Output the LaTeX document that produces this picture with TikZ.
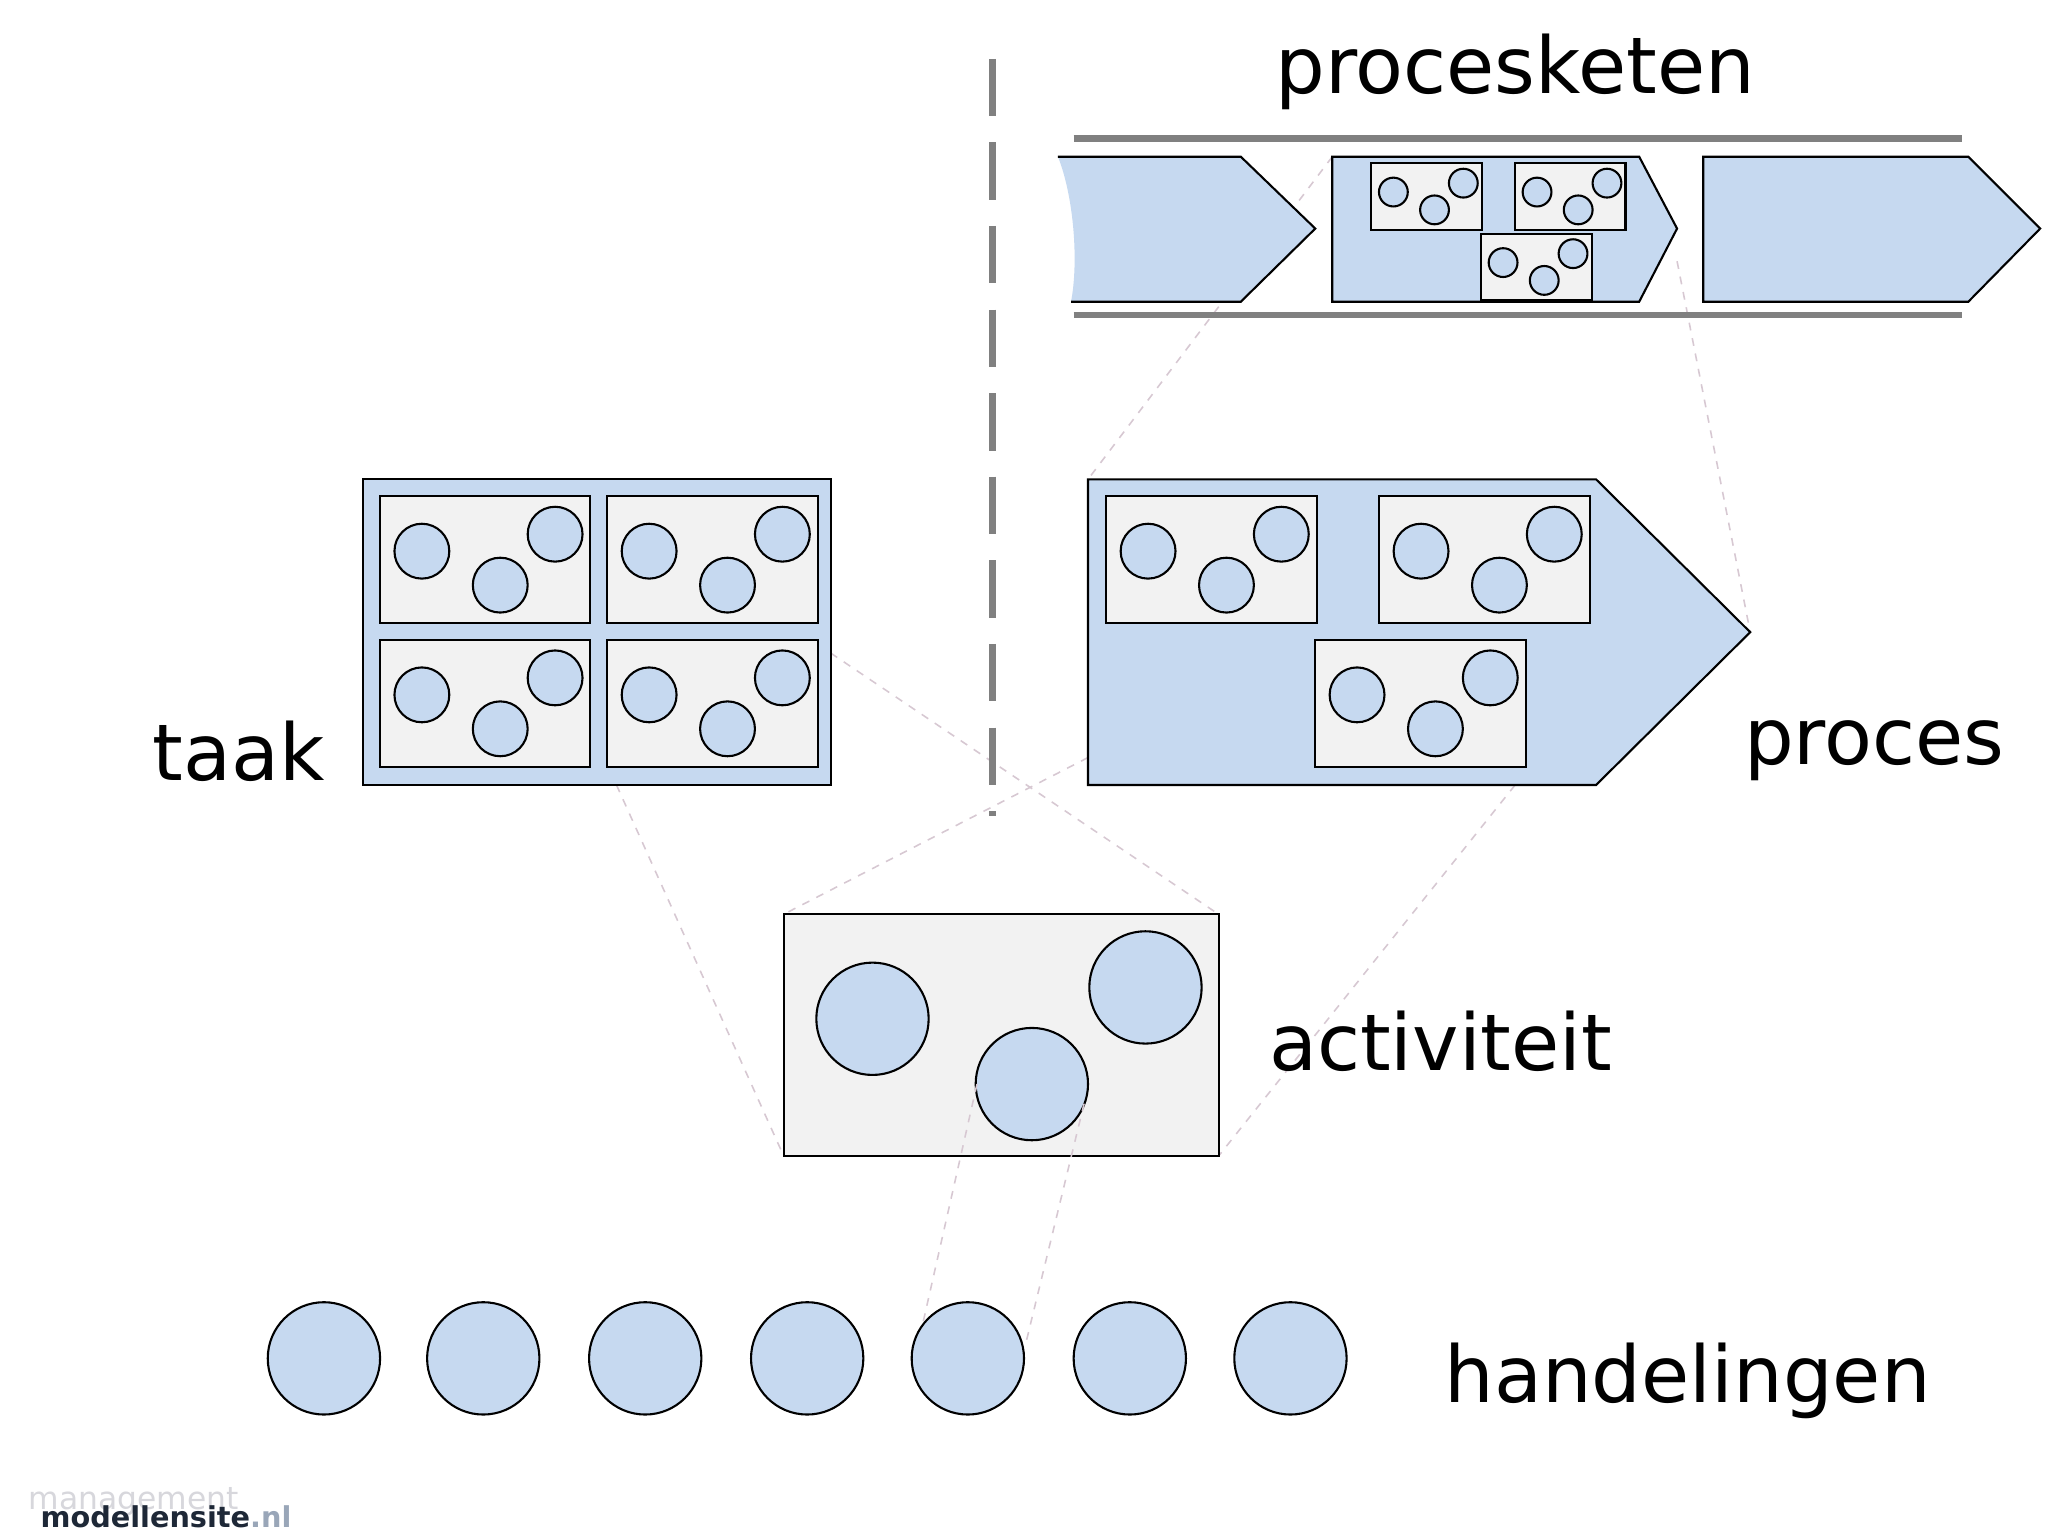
\documentclass[tikz,border=0pt]{standalone}
\usepackage{fontspec}
\setmainfont{DejaVu Sans}
\begin{document}
\begin{tikzpicture}[x=0.5pt,y=-0.5pt,
  blu/.style={fill={rgb,255:red,198;green,217;blue,240},draw=black,line width=0.8pt},
  gbox/.style={fill={rgb,255:red,242;green,242;blue,242},draw=black,line width=0.8pt},
  guide/.style={draw={rgb,255:red,215;green,200;blue,210},dashed,line width=0.6pt},
  bar/.style={draw={rgb,255:red,128;green,128;blue,128},line width=2.5pt},
  lbl/.style={font=\fontsize{30}{36}\selectfont}]
\useasboundingbox (0,0) rectangle (1568,1176);
\fill[white] (0,0) rectangle (1568,1176);
\newcommand\cbox[3]{\begin{scope}[shift={(#1,#2)},scale=#3]
  \draw[gbox] (0,0) rectangle (161,97);
  \draw[blu] (32,42) circle (21); \draw[blu] (92,68) circle (21); \draw[blu] (134,29) circle (21);
\end{scope}}
% guides behind
\draw[guide] (1020,120) -- (833,367);
\draw[guide] (1284,200) -- (1340,484);
\draw[guide] (833,580) -- (600,700);
\draw[guide] (1160,601) -- (933,885);
\draw[guide] (636,500) -- (933,700);
\draw[guide] (472,601) -- (600,885);
% dashed divider
\draw[draw={rgb,255:red,128;green,128;blue,128},line width=2.5pt,dash pattern=on 22pt off 10pt] (760,45) -- (760,625);
% procesketen
\node[lbl] (pk) at (1160,55) {procesketen};
\draw[bar] (822,106) -- (1502,106);
\draw[bar] (822,241) -- (1502,241);
\fill[blu,draw=none] (810,120) -- (950,120) -- (1007,175) -- (950,231) -- (820,231) .. controls (826,200) and (822,150) .. (810,120);
\draw[line width=0.8pt] (810,120) -- (950,120) -- (1007,175) -- (950,231) -- (820,231);
\draw[blu] (1020,120) -- (1255,120) -- (1284,175) -- (1255,231) -- (1020,231) -- cycle;
\cbox{1050}{125}{0.525}
\cbox{1160}{125}{0.525}
\cbox{1134}{179}{0.525}
\draw[blu] (1304,120) -- (1507,120) -- (1562,175) -- (1507,231) -- (1304,231) -- cycle;
% taak
\draw[blu] (278,367) rectangle (636,601);
\cbox{291}{380}{1}\cbox{465}{380}{1}\cbox{291}{490}{1}\cbox{465}{490}{1}
\node[lbl] (taak) at (183,575) {taak};
% proces
\draw[blu] (833,367) -- (1222,367) -- (1340,484) -- (1222,601) -- (833,601) -- cycle;
\cbox{847}{380}{1}\cbox{1056}{380}{1}\cbox{1007}{490}{1}
\node[lbl] (proces) at (1435,575) {proces};
% activiteit
\draw[gbox] (600,700) rectangle (933,885);
\draw[blu] (668,780) circle (43); \draw[blu] (790,830) circle (43); \draw[blu] (877,756) circle (43);
\draw[guide] (748,830) -- (705,1020);
\draw[guide] (830,845) -- (785,1030);
\node[lbl] (act) at (1103,797) {activiteit};
% handelingen
\foreach \x in {248,370,494,618,741,865,988} \draw[blu] (\x,1040) circle (43);
\node[lbl] (hand) at (1292,1057) {handelingen};
% logo
\node[anchor=west,text={rgb,255:red,215;green,215;blue,220},font=\fontsize{12}{14}\selectfont] at (15,1150) {management};
\node[anchor=west,font=\bfseries\fontsize{11}{13}\selectfont,text={rgb,255:red,30;green,40;blue,55}] (logo) at (24,1161) {modellensite\textcolor[rgb]{0.6,0.65,0.72}{.nl}};
\end{tikzpicture}
\end{document}
